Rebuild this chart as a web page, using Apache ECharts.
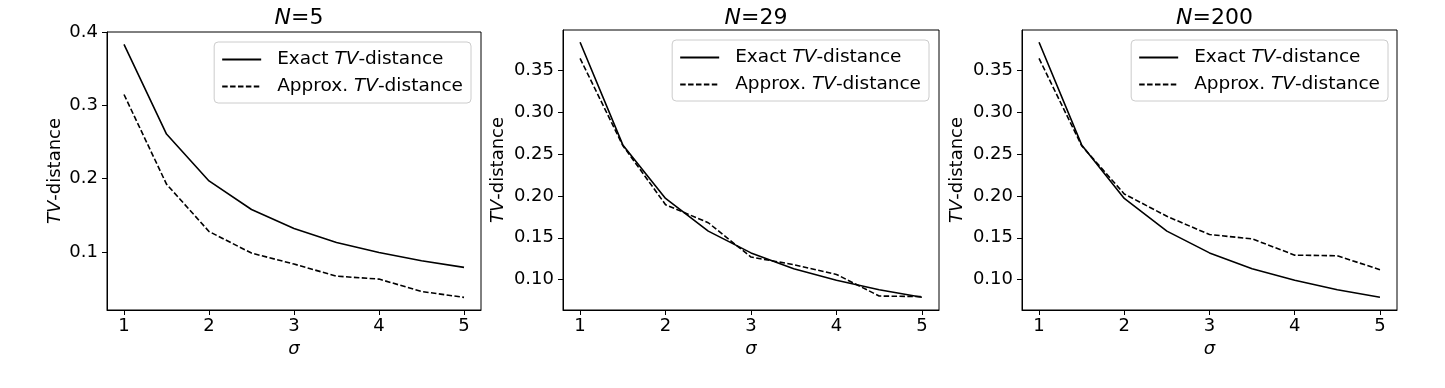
<!DOCTYPE html>
<html>
<head>
<meta charset="utf-8">
<script src="https://cdn.jsdelivr.net/npm/echarts@6/dist/echarts.min.js"></script>
<style>
  html, body { margin: 0; padding: 0; background: #fff; }
  #chart { width: 1445px; height: 388px; }
</style>
</head>
<body>
<div id="chart"></div>
<script>
// ---- data ----
const sigma = [1, 1.5, 2, 2.5, 3, 3.5, 4, 4.5, 5];
const exactTV = [0.3835, 0.261, 0.197, 0.158, 0.132, 0.113, 0.0993, 0.088, 0.079];
const approxN5 = [0.315, 0.1926, 0.128, 0.0985, 0.0835, 0.067, 0.063, 0.0461, 0.038];
const approxN29 = [0.3643, 0.2602, 0.1896, 0.168, 0.127, 0.118, 0.1063, 0.0805, 0.0798];
const approxN200 = [0.3643, 0.260, 0.2024, 0.1757, 0.1539, 0.1488, 0.1293, 0.1286, 0.1119];
const panelTitles = ['5', '29', '200'];
const xTicks = [1, 2, 3, 4, 5];
const yTicks1 = [0.1, 0.2, 0.3, 0.4];
const yTicks23 = [0.10, 0.15, 0.20, 0.25, 0.30, 0.35];
const seriesNames = ['Exact TV-distance', 'Approx. TV-distance'];

// ---- layout ----
const FONT = 'DejaVu Sans';
const grids = [
  { left: 107, top: 32, width: 374, height: 278 },
  { left: 563, top: 30, width: 376, height: 280 },
  { left: 1022, top: 30, width: 375, height: 280 }
];
const yRanges = [[0.0208, 0.4003], [0.0638, 0.3982], [0.0638, 0.3982]];
const yTickSets = [yTicks1, yTicks23, yTicks23];
const yDecimals = [1, 2, 2];
const yNameGaps = [43, 56, 56];
const legendBoxes = [
  { right: 1445 - 471, top: 42 },
  { right: 1445 - 929, top: 40 },
  { right: 1445 - 1388, top: 40 }
];
const approxSets = [approxN5, approxN29, approxN200];

const italicRich = { i: { fontStyle: 'italic', fontFamily: FONT, fontSize: 18, color: '#000' } };
const legendRich = { i: { fontStyle: 'italic', fontFamily: FONT, fontSize: 18.5, color: '#000' } };
const titleRich = { i: { fontStyle: 'italic', fontFamily: FONT, fontSize: 22, color: '#000' } };

const option = {
  backgroundColor: '#fff',
  animation: false,
  title: grids.map((g, k) => ({
    text: '{i|N}=' + panelTitles[k],
    left: g.left + g.width / 2,
    textAlign: 'center',
    top: 2,
    textStyle: { fontFamily: FONT, fontSize: 22, fontWeight: 'normal', color: '#000', rich: titleRich }
  })),
  grid: grids.map(g => Object.assign({ show: true, borderColor: '#000', borderWidth: 1, backgroundColor: 'transparent' }, g)),
  legend: legendBoxes.map(b => ({
    orient: 'vertical',
    right: b.right,
    top: b.top,
    data: seriesNames,
    itemWidth: 39,
    itemHeight: 14,
    itemGap: 8,
    padding: [8, 8, 7, 7],
    borderColor: '#cccccc',
    borderWidth: 1,
    borderRadius: 4,
    backgroundColor: 'rgba(255,255,255,0.8)',
    selectedMode: false,
    itemStyle: { opacity: 0 },
    formatter: name => name.replace('TV', '{i|TV}'),
    textStyle: { fontFamily: FONT, fontSize: 18.5, color: '#000', padding: [0, 0, 0, 11], rich: legendRich }
  })),
  xAxis: grids.map((g, k) => ({
    type: 'value',
    gridIndex: k,
    min: 0.8,
    max: 5.2,
    name: 'σ',
    nameLocation: 'middle',
    nameGap: 28,
    nameTextStyle: { fontFamily: FONT, fontSize: 18, fontStyle: 'italic', color: '#000' },
    splitLine: { show: false },
    axisLine: { show: true, lineStyle: { color: '#000', width: 1 } },
    axisTick: { show: true, length: 5, lineStyle: { color: '#000', width: 1 }, customValues: xTicks },
    axisLabel: { fontFamily: FONT, fontSize: 18, color: '#000', margin: 7, customValues: xTicks, formatter: v => String(v) }
  })),
  yAxis: grids.map((g, k) => ({
    type: 'value',
    gridIndex: k,
    min: yRanges[k][0],
    max: yRanges[k][1],
    name: '{i|TV}-distance',
    nameLocation: 'middle',
    nameGap: yNameGaps[k],
    nameRotate: 90,
    nameTextStyle: { fontFamily: FONT, fontSize: 18, color: '#000', rich: italicRich },
    splitLine: { show: false },
    axisLine: { show: true, lineStyle: { color: '#000', width: 1 } },
    axisTick: { show: true, length: 5, lineStyle: { color: '#000', width: 1 }, customValues: yTickSets[k] },
    axisLabel: { fontFamily: FONT, fontSize: 18, color: '#000', margin: 9, customValues: yTickSets[k],
      formatter: v => Number(v).toFixed(yDecimals[k]) }
  })),
  series: []
};

grids.forEach((g, k) => {
  option.series.push({
    name: seriesNames[0], type: 'line', xAxisIndex: k, yAxisIndex: k,
    data: sigma.map((s, i) => [s, exactTV[i]]),
    symbol: 'none', lineStyle: { color: '#000', width: 1.6, type: 'solid' }, itemStyle: { color: '#000' }
  });
  option.series.push({
    name: seriesNames[1], type: 'line', xAxisIndex: k, yAxisIndex: k,
    data: sigma.map((s, i) => [s, approxSets[k][i]]),
    symbol: 'none', lineStyle: { color: '#000', width: 1.6, type: [5.5, 2.4] }, itemStyle: { color: '#000' }
  });
});

const chart = echarts.init(document.getElementById('chart'), null, { renderer: 'canvas' });
chart.setOption(option);
</script>
</body>
</html>
